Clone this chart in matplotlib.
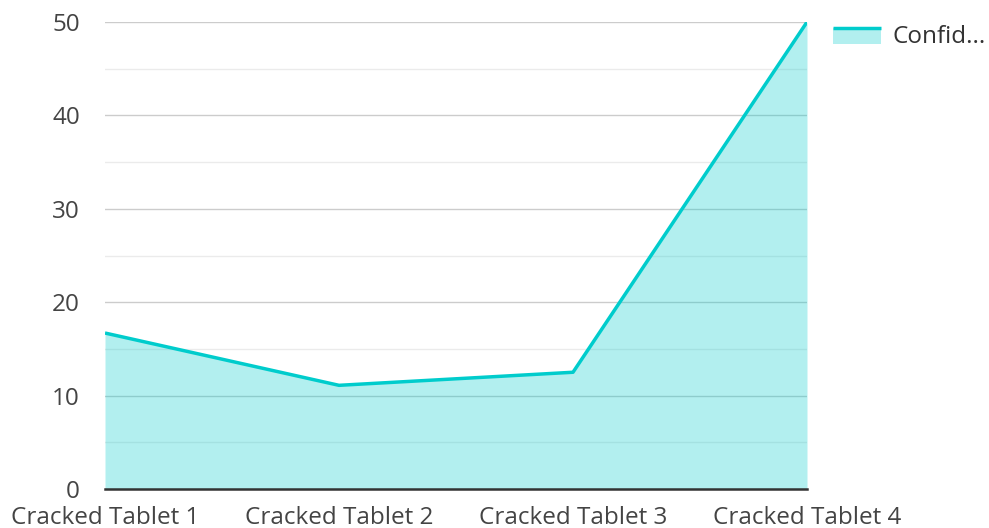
import matplotlib
matplotlib.use("Agg")
import matplotlib.pyplot as plt
from matplotlib.lines import Line2D
from matplotlib.patches import Patch, Rectangle
from matplotlib.legend_handler import HandlerBase
from matplotlib.ticker import MultipleLocator

categories = ["Cracked Tablet 1", "Cracked Tablet 2", "Cracked Tablet 3", "Cracked Tablet 4"]
values = [16.7, 11.1, 12.5, 50.0]
series_name = "Confid..."
yticks = [0, 10, 20, 30, 40, 50]

plt.rcParams['font.family'] = ['Open Sans', 'DejaVu Sans']

line_color = "#00CCCC"
FS = 17.5


class HandlerLineArea(HandlerBase):
    def create_artists(self, legend, orig_handle, xdescent, ydescent,
                       width, height, fontsize, trans):
        top = -ydescent + height * 0.85
        bottom = -ydescent - height * 0.05
        rect = Rectangle((-xdescent, bottom), width, top - bottom,
                         facecolor=line_color, alpha=0.3, linewidth=0,
                         transform=trans)
        line = Line2D([-xdescent, -xdescent + width], [top, top],
                      color=line_color, linewidth=2.5, transform=trans,
                      solid_capstyle='butt')
        return [rect, line]


fig = plt.figure(figsize=(9.89, 5.28), dpi=100)
ax = fig.add_axes([105/989, 39/528, 702/989, 467/528])

x = list(range(len(categories)))
ax.fill_between(x, values, 0, color=line_color, alpha=0.3, linewidth=0, zorder=3)
ax.plot(x, values, color=line_color, linewidth=2.5, zorder=4, solid_capstyle='butt')

ax.set_xlim(0, len(categories) - 1)
ax.set_ylim(0, 50)
ax.set_yticks(yticks)
ax.yaxis.set_minor_locator(MultipleLocator(5))
ax.set_xticks(x)
ax.set_xticklabels(categories)

ax.grid(True, which='major', axis='y', color='#cccccc', linewidth=1, zorder=1)
ax.grid(True, which='minor', axis='y', color='#ebebeb', linewidth=1, zorder=1)
ax.grid(False, axis='x')
ax.set_axisbelow(True)

for s in ['top', 'right', 'left']:
    ax.spines[s].set_visible(False)
ax.spines['bottom'].set_color('#333333')
ax.spines['bottom'].set_linewidth(1.8)
ax.spines['bottom'].set_zorder(5)

ax.tick_params(axis='both', which='both', length=0, labelsize=FS, colors='#444444')
ax.tick_params(axis='y', pad=18)
ax.tick_params(axis='x', pad=12)

handle = Patch(facecolor=line_color)
leg = fig.legend([handle], [series_name], loc='upper left',
                 bbox_to_anchor=(823/989, 1 - 15/528), frameon=False,
                 fontsize=FS, handlelength=2.0, handletextpad=0.45,
                 borderaxespad=0,
                 handler_map={Patch: HandlerLineArea()})
for t in leg.get_texts():
    t.set_color('#333333')

fig.savefig("out.png", dpi=100)
